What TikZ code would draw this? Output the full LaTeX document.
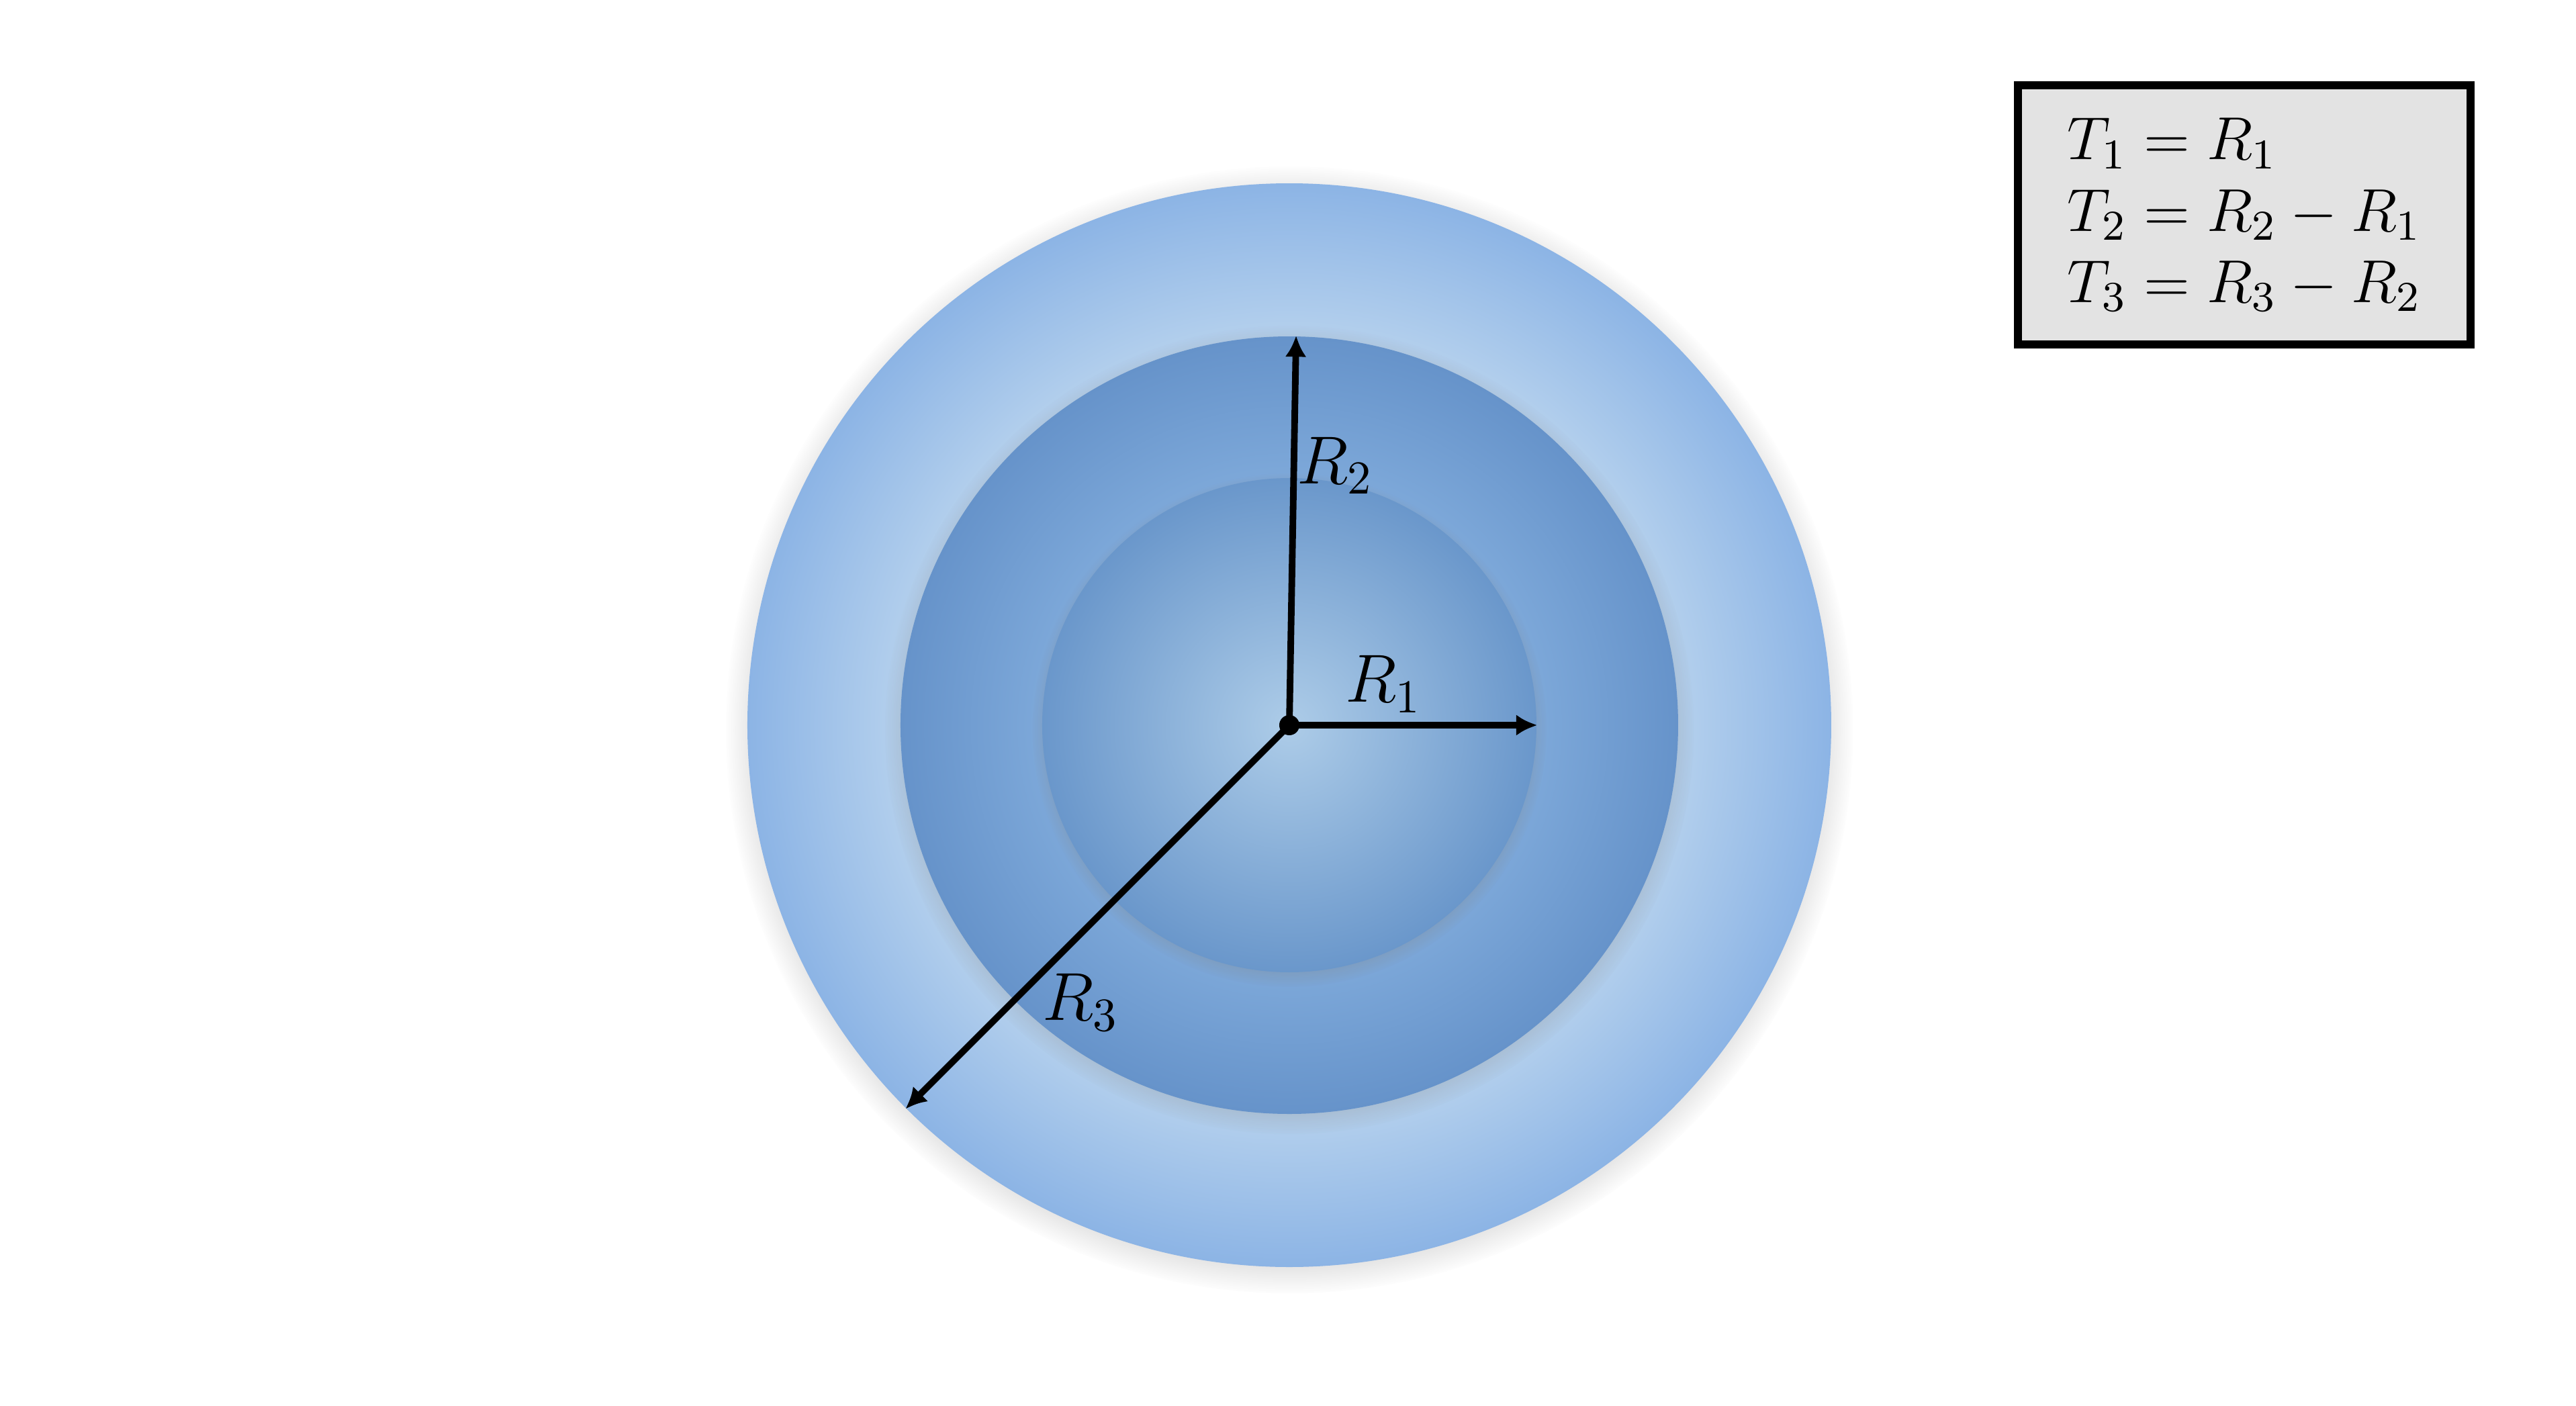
\RequirePackage{fix-cm}
\documentclass[tikz,border=0pt]{standalone}
\usepackage{xcolor}
\usepackage{tikz}
\usetikzlibrary{arrows.meta,shadows,positioning,calc}

\definecolor{ringlight}{HTML}{B4D0ED}
\definecolor{ringedge}{HTML}{8CB4E5}
\definecolor{midlight}{HTML}{9CC0E4}
\definecolor{midmid}{HTML}{7DA8D9}
\definecolor{midedge}{HTML}{6693CA}
\definecolor{corelight}{HTML}{ADCCE8}
\definecolor{coreedge}{HTML}{6A97CB}
\definecolor{legendgray}{HTML}{E3E3E3}

\pgfdeclareradialshading{outershell}{\pgfpoint{0bp}{0bp}}{color(0bp)=(ringlight); color(18bp)=(ringlight); color(25bp)=(ringedge); color(50bp)=(ringedge)}
\pgfdeclareradialshading{midshell}{\pgfpoint{0bp}{0bp}}{color(0bp)=(midlight); color(16bp)=(midmid); color(25bp)=(midedge); color(50bp)=(midedge)}
\pgfdeclareradialshading{coreshell}{\pgfpoint{0bp}{0bp}}{color(0bp)=(corelight); color(25bp)=(coreedge); color(50bp)=(coreedge)}

\begin{document}
\begin{tikzpicture}[
    shell/.style={circle,inner sep=0pt,shade,
      circular drop shadow={shadow xshift=0pt,shadow yshift=-1pt,shadow scale=1.04,opacity=.6}},
    radline/.style={line width=1.4pt,-{Latex[length=4.5pt,width=4.5pt]}},
    radlabel/.style={font=\Large,inner sep=0pt},
    legendbox/.style={draw,line width=1.6pt,fill=legendgray,font=\fontsize{12.85}{15.1}\selectfont,
      align=left,minimum width=3.37cm,minimum height=1.93cm}
  ]
  \useasboundingbox (-9.6,-5.07) rectangle (9.58,5.4);
  \coordinate (O) at (0,0);

  % shells, outermost first
  \node[shell,shading=outershell,minimum size=8.07cm] (shell3) at (O) {};
  \node[shell,shading=midshell,minimum size=5.79cm] (shell2) at (O) {};
  \node[shell,shading=coreshell,minimum size=3.68cm] (shell1) at (O) {};

  % radii
  \draw[radline] (O) -- (shell1.east)
    node[radlabel,pos=.38,above=2pt] (lab1) {$R_1$};
  \draw[radline] (O) -- (shell2.89.1)
    node[radlabel,pos=.62,anchor=base west] (lab2) {$R_2$};
  \draw[radline] (O) -- (shell3.225)
    node[radlabel,pos=.64,anchor=north west,xshift=-1pt] (lab3) {$R_3$};
  \node[circle,fill,inner sep=0pt,minimum size=1.5mm] (centre) at (O) {};

  % thicknesses
  \node[legendbox] (legend) at (7.11,3.80)
    {$T_1 = R_1$\\ $T_2 = R_2 - R_1$\\ $T_3 = R_3 - R_2$};
\end{tikzpicture}
\end{document}
